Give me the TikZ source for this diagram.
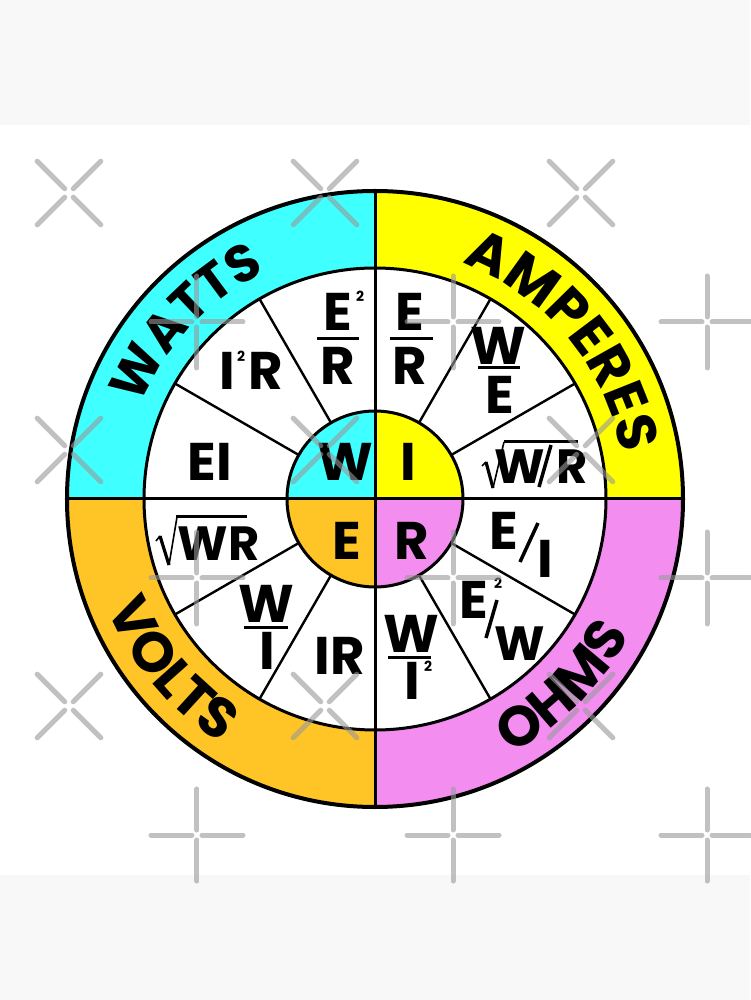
\documentclass[tikz,border=0pt]{standalone}
\usepackage{fontspec}
\setmainfont{Poppins}
\usetikzlibrary{decorations.text}
\definecolor{cyanq}{HTML}{3FFFFF}
\definecolor{yellowq}{HTML}{FFFF00}
\definecolor{orangeq}{HTML}{FFC425}
\definecolor{pinkq}{HTML}{F38DF0}
\definecolor{bandgray}{HTML}{F8F8F8}
\definecolor{markgray}{HTML}{999999}
\newcommand\bigtxt{\bfseries\fontsize{53}{53}\selectfont}
\newcommand\midtxt{\bfseries\fontsize{48}{48}\selectfont}
\newcommand\ringtxt{\bfseries\fontsize{56}{56}\selectfont}
\newcommand\ringsmall{\bfseries\fontsize{52}{52}\selectfont}
\newcommand\suptxt{\bfseries\fontsize{14}{14}\selectfont}
\tikzset{
  lbl/.style={inner sep=0pt, font=\bigtxt},
  mlbl/.style={inner sep=0pt, font=\midtxt},
  suplbl/.style={inner sep=0pt, font=\suptxt},
  fracbar/.style={line width=3pt},
  slashline/.style={line width=3.5pt},
  segline/.style={line width=2.4pt},
  quadline/.style={line width=3pt},
  radthin/.style={line width=1.6pt, line join=miter},
  radthick/.style={line width=3.2pt},
  ringlabel/.style={decorate, decoration={text along path, text align=center, text={|\ringtxt|#1}}},
  ringlabelsmall/.style={decorate, decoration={text along path, text align=center, text={|\ringsmall|#1}}},
  wmark/.style={line width=5pt, line cap=round, draw=markgray, opacity=0.6},
  wx/.pic={\foreach \a in {45,135,225,315} \draw[wmark] (\a:6) -- (\a:45);},
  wp/.pic={\foreach \a in {0,90,180,270} \draw[wmark] (\a:5) -- (\a:46);}
}
\begin{document}
\begin{tikzpicture}[x=1pt,y=1pt]
\useasboundingbox (-375,-501) rectangle (375,499);
\fill[white] (-375,-501) rectangle (375,499);
\fill[bandgray] (-375,374) rectangle (375,499);
\fill[bandgray] (-375,-501) rectangle (375,-376);
% outer quadrants
\fill[cyanq] (0,0) -- (90:308) arc[start angle=90,end angle=180,radius=308] -- cycle;
\fill[yellowq] (0,0) -- (0:308) arc[start angle=0,end angle=90,radius=308] -- cycle;
\fill[orangeq] (0,0) -- (180:308) arc[start angle=180,end angle=270,radius=308] -- cycle;
\fill[pinkq] (0,0) -- (270:308) arc[start angle=270,end angle=360,radius=308] -- cycle;
\fill[white] (0,0) circle[radius=231];
% centre quadrants
\fill[cyanq] (0,0) -- (90:88) arc[start angle=90,end angle=180,radius=88] -- cycle;
\fill[yellowq] (0,0) -- (0:88) arc[start angle=0,end angle=90,radius=88] -- cycle;
\fill[orangeq] (0,0) -- (180:88) arc[start angle=180,end angle=270,radius=88] -- cycle;
\fill[pinkq] (0,0) -- (270:88) arc[start angle=270,end angle=360,radius=88] -- cycle;
% lines
\foreach \a in {30,60,120,150,210,240,300,330} \draw[segline] (\a:88) -- (\a:231);
\draw[quadline] (-308,0) -- (308,0);
\draw[quadline] (0,-308) -- (0,308);
\draw[line width=3pt] (0,0) circle[radius=231];
\draw[line width=3pt] (0,0) circle[radius=88];
\draw[line width=4pt] (0,0) circle[radius=308];
% centre letters
\node[lbl] (cW) at (-30,37) {W};
\node[lbl] (cI) at (33,37) {I};
\node[lbl] (cE) at (-28,-42) {E};
\node[lbl] (cR) at (37,-42) {R};
% top-left: watts
\node[lbl] (a1) at (-37,187.5) {E};
\node[suplbl] (a1s) at (-15,203) {2};
\draw[fracbar] (-58,160) -- (-16,160);
\node[lbl] (a1d) at (-37,133.5) {R};
\node[lbl] (a2i) at (-148,128) {I};
\node[suplbl] (a2s) at (-134,143) {2};
\node[lbl] (a2r) at (-109,128) {R};
\node[lbl] (a3) at (-165.5,37.5) {EI};
% top-right: amperes
\node[lbl] (b1) at (35,187.5) {E};
\draw[fracbar] (15,160) -- (58,160);
\node[lbl] (b1d) at (35,133.5) {R};
\node[lbl] (b2) at (123,153) {W};
\draw[fracbar] (103,131) -- (145,131);
\node[lbl] (b2d) at (125,104) {E};
\draw[radthin] (107,33) -- (111,37);
\draw[radthick] (111,37) -- (118,11);
\draw[radthin] (118,11) -- (129,57);
\draw[fracbar] (128.5,57) -- (203,57);
\node[mlbl] (b3w) at (145,32.5) {W};
\draw[slashline] (164,12) -- (176,54);
\node[mlbl] (b3r) at (197,32.5) {R};
% bottom-right: ohms
\node[lbl] (c1e) at (128.5,-31.5) {E};
\draw[slashline] (145,-63) -- (163,-24);
\node[lbl] (c1i) at (170,-59.5) {I};
\node[lbl] (c2e) at (99,-101) {E};
\node[suplbl] (c2s) at (123,-84) {2};
\draw[slashline] (111,-139) -- (122,-101);
\node[mlbl] (c2w) at (145,-144.5) {W};
\node[lbl] (c3w) at (36.5,-135) {W};
\draw[fracbar] (13,-158) -- (56,-158);
\node[lbl] (c3i) at (37,-182) {I};
\node[suplbl] (c3s) at (53,-167) {2};
% bottom-left: volts
\node[lbl] (d1) at (-35,-157) {IR};
\node[lbl] (d2w) at (-109,-104.5) {W};
\draw[fracbar] (-131,-128) -- (-87,-128);
\node[lbl] (d2i) at (-108,-151.5) {I};
\draw[radthin] (-219,-42) -- (-215,-37);
\draw[radthick] (-215,-37) -- (-206,-66);
\draw[radthin] (-206,-66) -- (-198,-18);
\draw[fracbar] (-198.5,-18) -- (-128,-18);
\node[mlbl] (d3) at (-156.5,-45) {WR};
% ring labels
\path[ringlabelsmall=WATTS] (197:252) arc[start angle=197,end angle=77,radius=252];
\path[ringlabel=AMPERES] (100:251) arc[start angle=100,end angle=-20,radius=251];
\path[ringlabel=VOLTS] (160:289) arc[start angle=160,end angle=280,radius=289];
\path[ringlabel=OHMS] (255:289) arc[start angle=255,end angle=375,radius=289];
% watermark marks
\foreach \x in {-306,-50,206} \foreach \y in {306,49,-207} \pic at (\x,\y) {wx};
\foreach \x in {-178,78,332} \foreach \y in {177,-79,-336} \pic at (\x,\y) {wp};
\end{tikzpicture}
\end{document}
